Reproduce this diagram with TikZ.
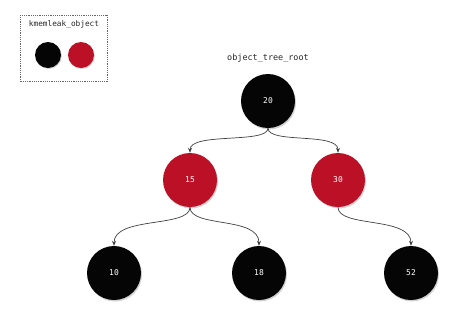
\documentclass[tikz,border=0pt]{standalone}
\usepackage{fontspec}
\setmonofont{DejaVu Sans Mono}
\usetikzlibrary{arrows.meta,shadows}
\definecolor{rbred}{RGB}{188,16,38}
\definecolor{rbblack}{RGB}{5,5,5}
\begin{document}
\begin{tikzpicture}[x=1bp,y=-1bp,
  treenode/.style={circle,minimum size=54bp,inner sep=0pt,text=white,
    font=\ttfamily\fontsize{8}{9}\selectfont,
    drop shadow={shadow xshift=1bp,shadow yshift=-1.5bp,fill=gray!70}},
  blk/.style={treenode,fill=rbblack},
  redn/.style={treenode,fill=rbred},
  legdot/.style={circle,minimum size=26bp,inner sep=0pt,
    drop shadow={shadow xshift=0.8bp,shadow yshift=-1bp,fill=gray!70}},
  edge/.style={draw=black!75,line width=0.7bp,-{Stealth[length=5bp,width=4bp]}},
  lbl/.style={font=\ttfamily\fontsize{8.5}{10}\selectfont,text=black!85}]
\useasboundingbox (0,0) rectangle (474,325);
% legend
\node[draw=black!60,dash pattern=on 1.2bp off 1bp,line width=0.7bp,minimum width=87bp,minimum height=66bp] (legend) at (64,48) {};
\node[lbl,font=\ttfamily\fontsize{7.8}{9}\selectfont] (legtitle) at (64,24) {kmemleak\_object};
\node[legdot,fill=rbblack] (legb) at (48,55) {};
\node[legdot,fill=rbred] (legr) at (81,55) {};
% tree
\node[lbl] (rootlbl) at (268,58) {object\_tree\_root};
\node[blk] (n20) at (268,101) {20};
\node[redn] (n15) at (190,180) {15};
\node[redn] (n30) at (338,180) {30};
\node[blk] (n10) at (114,273) {10};
\node[blk] (n18) at (259,273) {18};
\node[blk] (n52) at (411,273) {52};
\draw[edge] (n20.south) .. controls (268,144) and (190,132) .. (n15.north);
\draw[edge] (n20.south) .. controls (268,144) and (338,132) .. (n30.north);
\draw[edge] (n15.south) .. controls (190,228) and (114,216) .. (n10.north);
\draw[edge] (n15.south) .. controls (190,228) and (259,216) .. (n18.north);
\draw[edge] (n30.south) .. controls (338,228) and (411,216) .. (n52.north);
\end{tikzpicture}
\end{document}
